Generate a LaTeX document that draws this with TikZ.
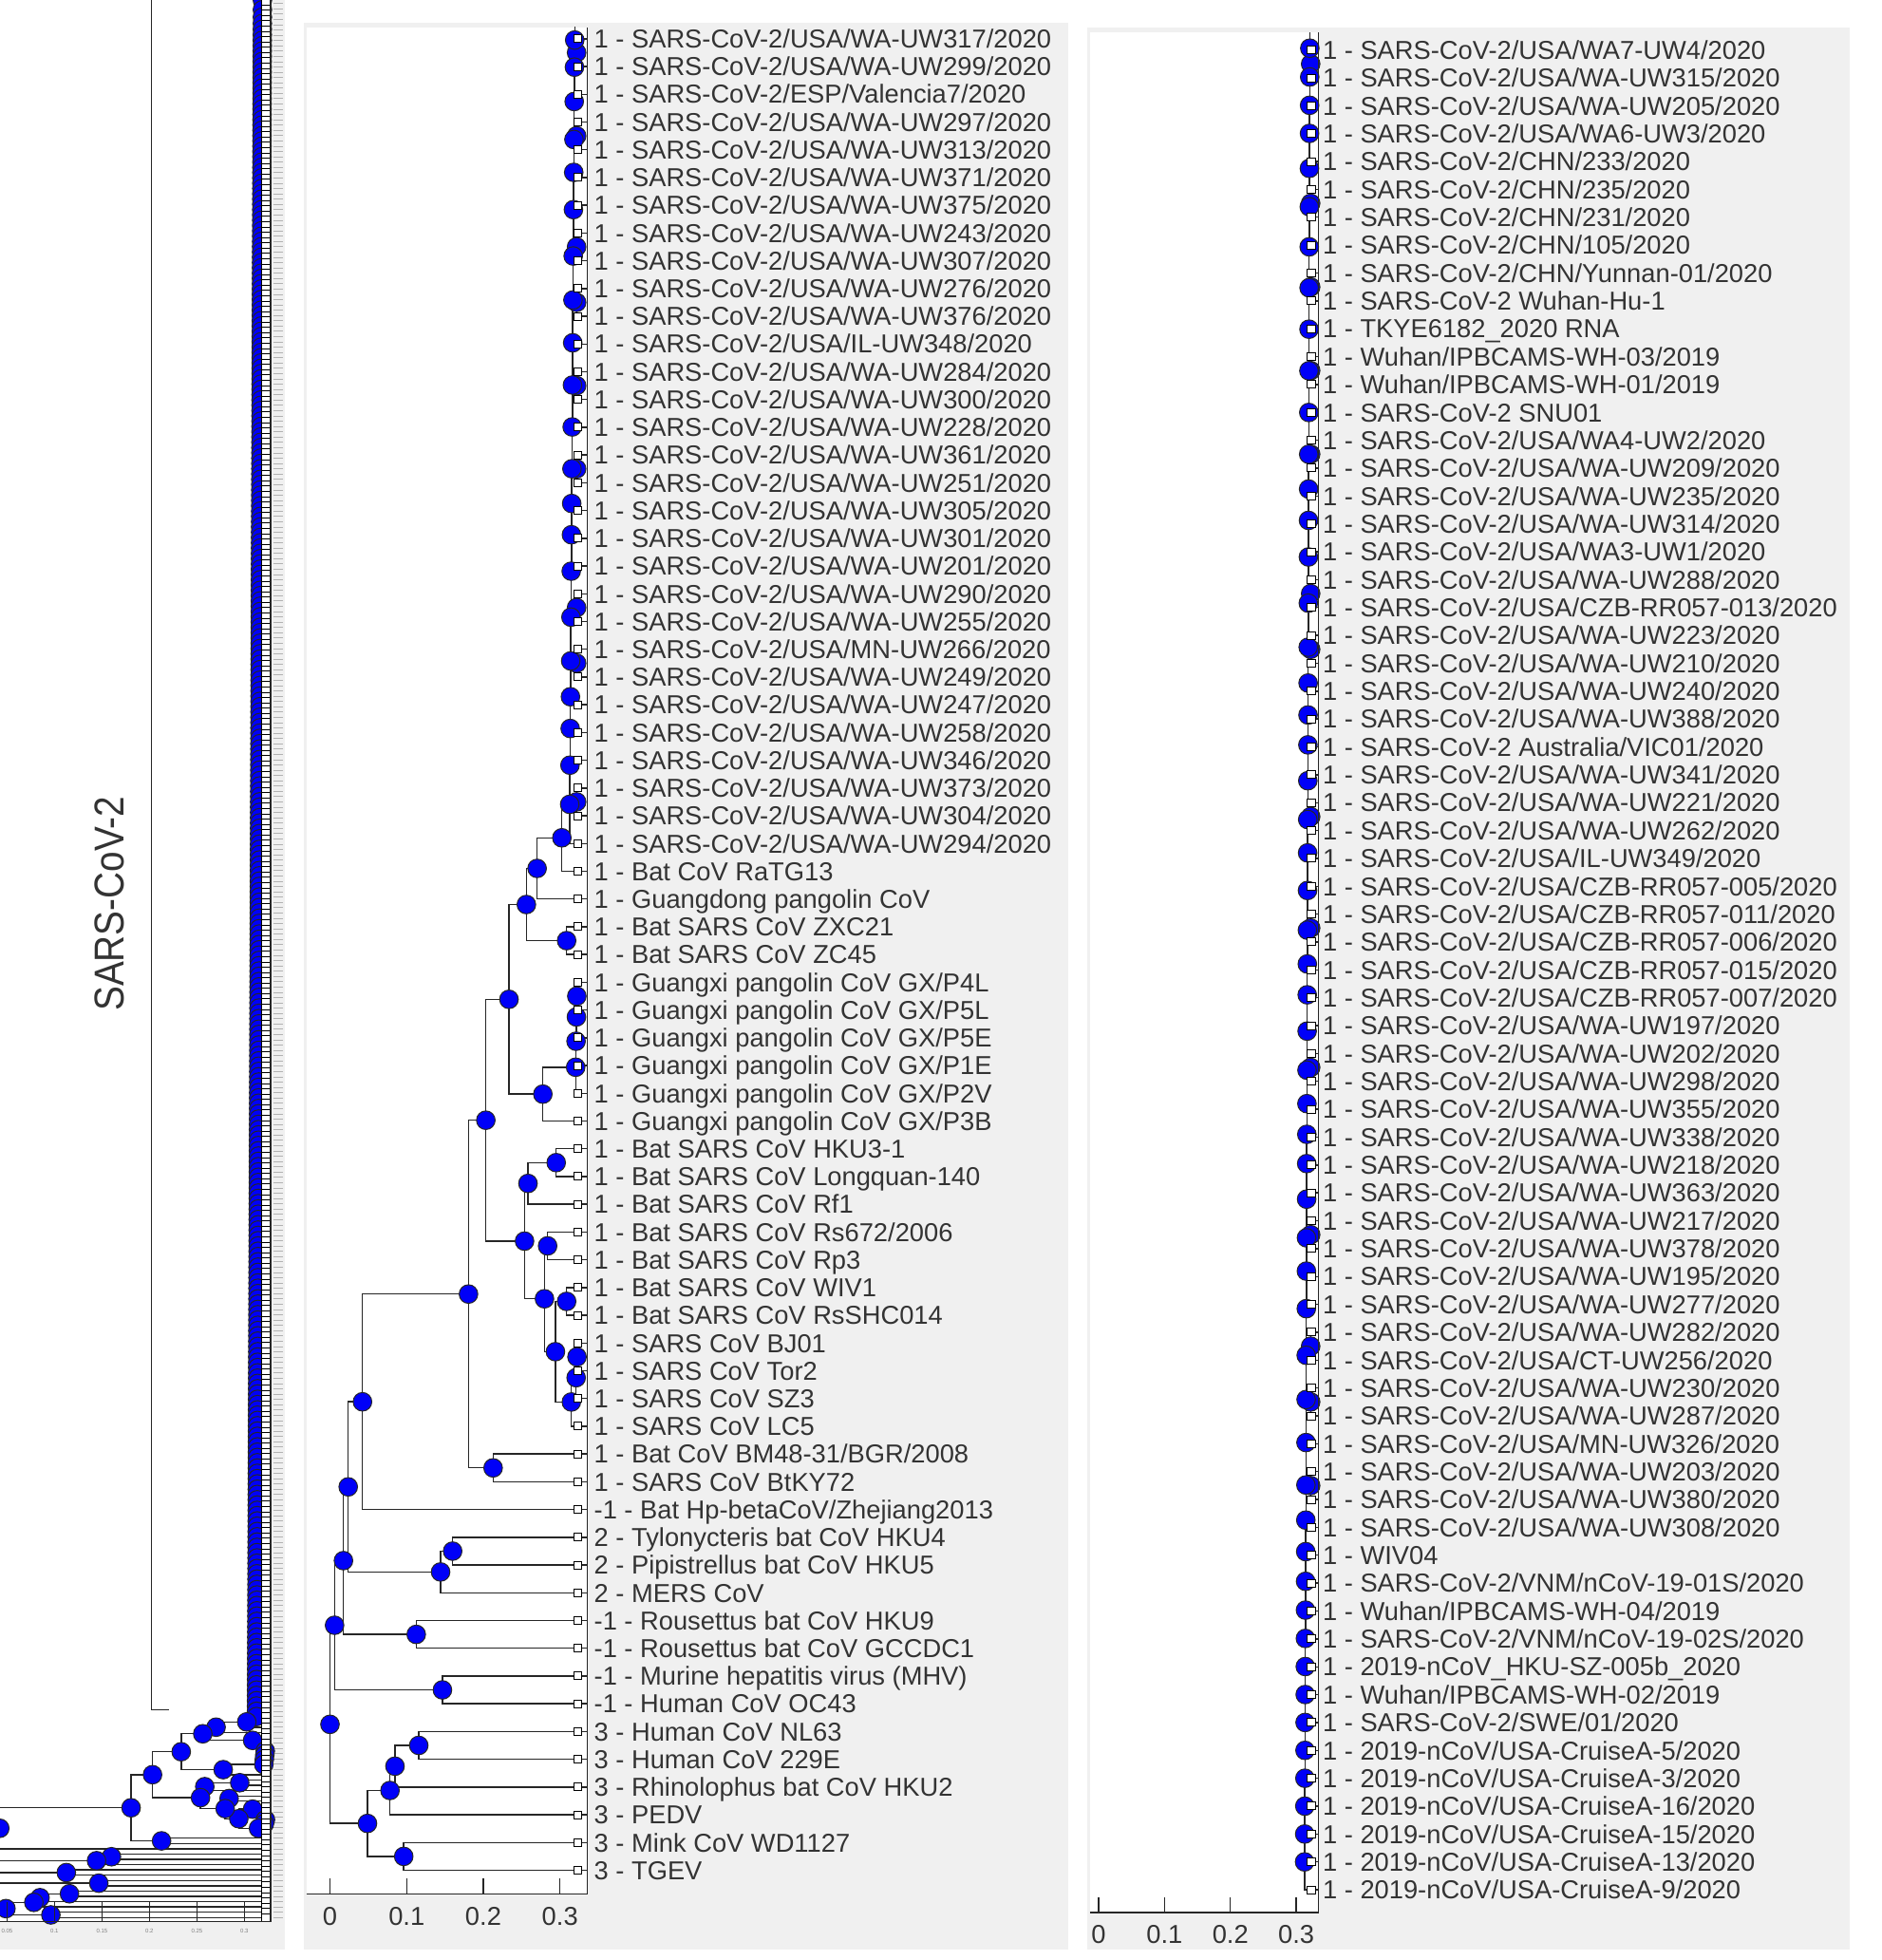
\documentclass[tikz,border=0pt]{standalone}
\usepackage{fontspec}
\setmainfont{Liberation Sans}
\usepackage{graphicx}
\usepackage{tikz}
\usetikzlibrary{calc}
\pgfdeclarelayer{bg}
\pgfsetlayers{bg,main}
\definecolor{panelgrey}{HTML}{F0F0F0}
\definecolor{nodeblue}{HTML}{0000F8}
\tikzset{
  bdot/.style={circle,draw=black!85,fill=nodeblue,line width=0.5pt,inner sep=0pt,minimum size=9.8pt},
  lbox/.style={rectangle,draw=black,fill=white,line width=0.5pt,inner sep=0pt,minimum width=4.4pt,minimum height=4pt},
  edgeline/.style={draw=black!85,line width=0.7pt},
  axisline/.style={draw=black!85,line width=0.6pt},
  lblmark/.style={draw=gray!60,line width=0.35pt},
  leaflab/.style={anchor=base west,inner sep=0pt,text=black!80,font=\fontsize{13.65}{14}\selectfont},
  ticklab/.style={anchor=base,inner sep=0pt,text=black!80,font=\fontsize{13.65}{14}\selectfont},
  tinylab/.style={anchor=base,inner sep=0pt,text=gray,font=\fontsize{3}{3}\selectfont},
}
% x position from branch length in the current panel
\newcommand\xv[1]{\xo+\xs*#1}
% branches are collected here and drawn under the dots at the end
\gdef\bgcmds{}
% inner node: name, x, first child, second child
\newcommand\tnode[4]{%
  \coordinate (#1m) at ($(#3.center)!0.5!(#4.center)$);
  \node[bdot] (#1) at ({#2},0 |- #1m) {};
  \xdef\bgcmds{\unexpanded\expandafter{\bgcmds}%
    \noexpand\draw[edgeline] (#1.center) |- (#3.center) (#1.center) |- (#4.center);}}
% everything outside the SARS-CoV-2 clade
\newcommand\backbone[2]{%
  % sarbecoviruses
  \tnode{#1rat}{\xv{0.3025}}{#2}{#131}
  \tnode{#1gd}{\xv{0.2702}}{#1rat}{#132}
  \tnode{#1zx}{\xv{0.3087}}{#133}{#134}
  \tnode{#1pa}{\xv{0.2562}}{#1gd}{#1zx}
  \tnode{#1gxa}{\xv{0.3220}}{#135}{#136}
  \tnode{#1gxb}{\xv{0.3215}}{#1gxa}{#137}
  \tnode{#1gxc}{\xv{0.3210}}{#1gxb}{#138}
  \tnode{#1gxd}{\xv{0.3205}}{#1gxc}{#139}
  \tnode{#1gx}{\xv{0.2777}}{#1gxd}{#140}
  \tnode{#1pb}{\xv{0.2335}}{#1pa}{#1gx}
  \tnode{#1hk}{\xv{0.2951}}{#141}{#142}
  \tnode{#1rf}{\xv{0.2583}}{#1hk}{#143}
  \tnode{#1rp}{\xv{0.2839}}{#144}{#145}
  \tnode{#1wv}{\xv{0.3087}}{#146}{#147}
  \tnode{#1bj}{\xv{0.3222}}{#148}{#149}
  \tnode{#1sz}{\xv{0.3211}}{#1bj}{#150}
  \tnode{#1lc}{\xv{0.3149}}{#1sz}{#151}
  \tnode{#1sa}{\xv{0.2941}}{#1wv}{#1lc}
  \tnode{#1sb}{\xv{0.2798}}{#1rp}{#1sa}
  \tnode{#1ba}{\xv{0.2538}}{#1rf}{#1sb}
  \tnode{#1pc}{\xv{0.2033}}{#1pb}{#1ba}
  \tnode{#1bg}{\xv{0.2128}}{#152}{#153}
  \tnode{#1sarbe}{\xv{0.1807}}{#1pc}{#1bg}
  % other betacoronaviruses
  \tnode{#1bea}{\xv{0.0424}}{#1sarbe}{#154}
  \tnode{#1hku}{\xv{0.1600}}{#155}{#156}
  \tnode{#1mers}{\xv{0.1443}}{#1hku}{#157}
  \tnode{#1beb}{\xv{0.0238}}{#1bea}{#1mers}
  \tnode{#1rou}{\xv{0.1125}}{#158}{#159}
  \tnode{#1bec}{\xv{0.0176}}{#1beb}{#1rou}
  \tnode{#1emb}{\xv{0.1467}}{#160}{#161}
  \tnode{#1bed}{\xv{0.0060}}{#1bec}{#1emb}
  % alphacoronaviruses
  \tnode{#1nl}{\xv{0.1158}}{#162}{#163}
  \tnode{#1hkb}{\xv{0.0848}}{#1nl}{#164}
  \tnode{#1ped}{\xv{0.0783}}{#1hkb}{#165}
  \tnode{#1tge}{\xv{0.0962}}{#166}{#167}
  \tnode{#1alpha}{\xv{0.0489}}{#1ped}{#1tge}
  \tnode{#1root}{\xv{0}}{#1bed}{#1alpha}}

\begin{document}
\begin{tikzpicture}[x=0.65814pt,y=-0.65814pt]
  \useasboundingbox (0,0) rectangle (1505,1568);

  %%% Left panel: whole tree
  \coordinate (lax) at (216.5,0);
  \foreach \i in {1,...,363}{
    \pgfmathtruncatemacro\k{\i-296}
    \ifnum\k>0 \edef\nm{L\k}\else\edef\nm{LU\i}\fi
    \coordinate (\nm) at (212.8,{1250.6+4.23*\k});
    \draw[edgeline] (\nm) -- (\nm -| lax);
    \draw[lblmark] (\nm -| lax) ++(2,0) -- ++(8,0);
  }
  % SARS-CoV-2 clade
  \coordinate (ls0) at (210,-60);
  \foreach \i [remember=\i as \ip (initially 0)] in {1,...,326}{
    \pgfmathtruncatemacro\k{\i-296}
    \ifnum\k>0 \edef\nm{L\k}\else\edef\nm{LU\i}\fi
    \tnode{ls\i}{210-0.0147*\i}{ls\ip}{\nm}
  }
  \def\xo{-32.4}\def\xs{759.7}
  \backbone{L}{ls326}
  % leaves on top
  \foreach \i in {1,...,363}{
    \pgfmathtruncatemacro\k{\i-296}
    \ifnum\k>0 \edef\nm{L\k}\else\edef\nm{LU\i}\fi
    \node[lbox] (\nm b) at (\nm) {};
  }
  % Axis
  \draw[axisline] (0,1537) -- (216.5,1537) -- (lax);
  \foreach \v [count=\t] in {0.05,0.1,0.15,0.2,0.25,0.3}{
    \draw[axisline] ({\xv{\v}},1537) -- ++(0,-15);
    \node[tinylab] (lt\t) at ({\xv{\v}},1546) {\v};
  }
  % Clade bracket
  \coordinate (brtop) at (121,0);
  \coordinate (brbot) at (121,1368);
  \coordinate (brend) at (135,1368);
  \draw[edgeline] (brtop) -- (brbot) -- (brend);
  \node[rotate=90,inner sep=0pt,text=black!80,font=\fontsize{22}{24}\selectfont] (cladelab) at (88,723) {\scalebox{0.88}[1]{SARS-CoV-2}};

  %%% Middle panel
  \coordinate (max) at (470,0);
  \foreach \lab [count=\k] in {
    1 - SARS-CoV-2/USA/WA-UW317/2020, 1 - SARS-CoV-2/USA/WA-UW299/2020,
    1 - SARS-CoV-2/ESP/Valencia7/2020, 1 - SARS-CoV-2/USA/WA-UW297/2020,
    1 - SARS-CoV-2/USA/WA-UW313/2020, 1 - SARS-CoV-2/USA/WA-UW371/2020,
    1 - SARS-CoV-2/USA/WA-UW375/2020, 1 - SARS-CoV-2/USA/WA-UW243/2020,
    1 - SARS-CoV-2/USA/WA-UW307/2020, 1 - SARS-CoV-2/USA/WA-UW276/2020,
    1 - SARS-CoV-2/USA/WA-UW376/2020, 1 - SARS-CoV-2/USA/IL-UW348/2020,
    1 - SARS-CoV-2/USA/WA-UW284/2020, 1 - SARS-CoV-2/USA/WA-UW300/2020,
    1 - SARS-CoV-2/USA/WA-UW228/2020, 1 - SARS-CoV-2/USA/WA-UW361/2020,
    1 - SARS-CoV-2/USA/WA-UW251/2020, 1 - SARS-CoV-2/USA/WA-UW305/2020,
    1 - SARS-CoV-2/USA/WA-UW301/2020, 1 - SARS-CoV-2/USA/WA-UW201/2020,
    1 - SARS-CoV-2/USA/WA-UW290/2020, 1 - SARS-CoV-2/USA/WA-UW255/2020,
    1 - SARS-CoV-2/USA/MN-UW266/2020, 1 - SARS-CoV-2/USA/WA-UW249/2020,
    1 - SARS-CoV-2/USA/WA-UW247/2020, 1 - SARS-CoV-2/USA/WA-UW258/2020,
    1 - SARS-CoV-2/USA/WA-UW346/2020, 1 - SARS-CoV-2/USA/WA-UW373/2020,
    1 - SARS-CoV-2/USA/WA-UW304/2020, 1 - SARS-CoV-2/USA/WA-UW294/2020,
    1 - Bat CoV RaTG13, 1 - Guangdong pangolin CoV,
    1 - Bat SARS CoV ZXC21, 1 - Bat SARS CoV ZC45,
    1 - Guangxi pangolin CoV GX/P4L, 1 - Guangxi pangolin CoV GX/P5L,
    1 - Guangxi pangolin CoV GX/P5E, 1 - Guangxi pangolin CoV GX/P1E,
    1 - Guangxi pangolin CoV GX/P2V, 1 - Guangxi pangolin CoV GX/P3B,
    1 - Bat SARS CoV HKU3-1, 1 - Bat SARS CoV Longquan-140,
    1 - Bat SARS CoV Rf1, 1 - Bat SARS CoV Rs672/2006,
    1 - Bat SARS CoV Rp3, 1 - Bat SARS CoV WIV1,
    1 - Bat SARS CoV RsSHC014, 1 - SARS CoV BJ01,
    1 - SARS CoV Tor2, 1 - SARS CoV SZ3,
    1 - SARS CoV LC5, 1 - Bat CoV BM48-31/BGR/2008,
    1 - SARS CoV BtKY72, -1 - Bat Hp-betaCoV/Zhejiang2013,
    2 - Tylonycteris bat CoV HKU4, 2 - Pipistrellus bat CoV HKU5,
    2 - MERS CoV, -1 - Rousettus bat CoV HKU9,
    -1 - Rousettus bat CoV GCCDC1, -1 - Murine hepatitis virus (MHV),
    -1 - Human CoV OC43, 3 - Human CoV NL63,
    3 - Human CoV 229E, 3 - Rhinolophus bat CoV HKU2,
    3 - PEDV, 3 - Mink CoV WD1127,
    3 - TGEV}{
    \coordinate (m\k) at (462.2,{31+22.2*(\k-1)});
    \draw[edgeline] (m\k) -- (m\k -| max);
    \node[leaflab] (mlab\k) at (475,{38.4+22.2*(\k-1)}) {\lab};
  }
  % SARS-CoV-2 clade
  \coordinate (ms0) at (460.5,22);
  \foreach \a/\b [count=\j, remember=\j as \jp (initially 0)] in {1/2,3/3,4/5,6/6,7/7,8/9,10/11,
      12/12,13/14,15/15,16/17,18/18,19/19,20/20,21/22,23/24,25/25,26/26,27/27,28/29,30/30}{
    \ifnum\a=\b\relax \edef\grp{m\a}\else \tnode{mc\j}{461.3}{m\a}{m\b}\edef\grp{mc\j}\fi
    \tnode{ms\j}{460-0.2*\j}{ms\jp}{\grp}
  }
  \def\xo{264}\def\xs{613.3}
  \backbone{m}{ms21}
  \foreach \k in {1,...,67}{\node[lbox] (m\k b) at (m\k) {};}
  % Axis
  \draw[axisline] (245,1515) -- (470,1515) -- (470,22);
  \foreach \v [count=\t] in {0,0.1,0.2,0.3}{
    \draw[axisline] ({\xv{\v}},1515) -- ++(0,-12);
    \node[ticklab] (mt\t) at ({\xv{\v}},1540.4) {\v};
  }

  %%% Right panel
  \coordinate (rax) at (1055,0);
  \foreach \lab [count=\k] in {
    1 - SARS-CoV-2/USA/WA7-UW4/2020, 1 - SARS-CoV-2/USA/WA-UW315/2020,
    1 - SARS-CoV-2/USA/WA-UW205/2020, 1 - SARS-CoV-2/USA/WA6-UW3/2020,
    1 - SARS-CoV-2/CHN/233/2020, 1 - SARS-CoV-2/CHN/235/2020,
    1 - SARS-CoV-2/CHN/231/2020, 1 - SARS-CoV-2/CHN/105/2020,
    1 - SARS-CoV-2/CHN/Yunnan-01/2020, 1 - SARS-CoV-2 Wuhan-Hu-1,
    1 - TKYE6182\_2020 RNA, 1 - Wuhan/IPBCAMS-WH-03/2019,
    1 - Wuhan/IPBCAMS-WH-01/2019, 1 - SARS-CoV-2 SNU01,
    1 - SARS-CoV-2/USA/WA4-UW2/2020, 1 - SARS-CoV-2/USA/WA-UW209/2020,
    1 - SARS-CoV-2/USA/WA-UW235/2020, 1 - SARS-CoV-2/USA/WA-UW314/2020,
    1 - SARS-CoV-2/USA/WA3-UW1/2020, 1 - SARS-CoV-2/USA/WA-UW288/2020,
    1 - SARS-CoV-2/USA/CZB-RR057-013/2020, 1 - SARS-CoV-2/USA/WA-UW223/2020,
    1 - SARS-CoV-2/USA/WA-UW210/2020, 1 - SARS-CoV-2/USA/WA-UW240/2020,
    1 - SARS-CoV-2/USA/WA-UW388/2020, 1 - SARS-CoV-2 Australia/VIC01/2020,
    1 - SARS-CoV-2/USA/WA-UW341/2020, 1 - SARS-CoV-2/USA/WA-UW221/2020,
    1 - SARS-CoV-2/USA/WA-UW262/2020, 1 - SARS-CoV-2/USA/IL-UW349/2020,
    1 - SARS-CoV-2/USA/CZB-RR057-005/2020, 1 - SARS-CoV-2/USA/CZB-RR057-011/2020,
    1 - SARS-CoV-2/USA/CZB-RR057-006/2020, 1 - SARS-CoV-2/USA/CZB-RR057-015/2020,
    1 - SARS-CoV-2/USA/CZB-RR057-007/2020, 1 - SARS-CoV-2/USA/WA-UW197/2020,
    1 - SARS-CoV-2/USA/WA-UW202/2020, 1 - SARS-CoV-2/USA/WA-UW298/2020,
    1 - SARS-CoV-2/USA/WA-UW355/2020, 1 - SARS-CoV-2/USA/WA-UW338/2020,
    1 - SARS-CoV-2/USA/WA-UW218/2020, 1 - SARS-CoV-2/USA/WA-UW363/2020,
    1 - SARS-CoV-2/USA/WA-UW217/2020, 1 - SARS-CoV-2/USA/WA-UW378/2020,
    1 - SARS-CoV-2/USA/WA-UW195/2020, 1 - SARS-CoV-2/USA/WA-UW277/2020,
    1 - SARS-CoV-2/USA/WA-UW282/2020, 1 - SARS-CoV-2/USA/CT-UW256/2020,
    1 - SARS-CoV-2/USA/WA-UW230/2020, 1 - SARS-CoV-2/USA/WA-UW287/2020,
    1 - SARS-CoV-2/USA/MN-UW326/2020, 1 - SARS-CoV-2/USA/WA-UW203/2020,
    1 - SARS-CoV-2/USA/WA-UW380/2020, 1 - SARS-CoV-2/USA/WA-UW308/2020,
    1 - WIV04, 1 - SARS-CoV-2/VNM/nCoV-19-01S/2020,
    1 - Wuhan/IPBCAMS-WH-04/2019, 1 - SARS-CoV-2/VNM/nCoV-19-02S/2020,
    1 - 2019-nCoV\_HKU-SZ-005b\_2020, 1 - Wuhan/IPBCAMS-WH-02/2019,
    1 - SARS-CoV-2/SWE/01/2020, 1 - 2019-nCoV/USA-CruiseA-5/2020,
    1 - 2019-nCoV/USA-CruiseA-3/2020, 1 - 2019-nCoV/USA-CruiseA-16/2020,
    1 - 2019-nCoV/USA-CruiseA-15/2020, 1 - 2019-nCoV/USA-CruiseA-13/2020,
    1 - 2019-nCoV/USA-CruiseA-9/2020}{
    \coordinate (r\k) at (1049,{40+22.3*(\k-1)});
    \draw[edgeline] (r\k) -- (r\k -| rax);
    \node[leaflab] (rlab\k) at (1058,{47.4+22.3*(\k-1)}) {\lab};
  }
  \coordinate (rs0) at (1048.5,26);
  \foreach \a/\b [count=\j, remember=\j as \jp (initially 0)] in {1/2,3/3,4/4,5/5,6/7,8/8,9/10,
      11/11,12/13,14/14,15/16,17/17,18/18,19/19,20/21,22/23,24/24,25/25,26/26,27/27,28/29,
      30/30,31/31,32/33,34/34,35/35,36/36,37/38,39/39,40/40,41/41,42/42,43/44,45/45,46/46,
      47/48,49/50,51/51,52/53,54/54,55/55,56/56,57/57,58/58,59/59,60/60,61/61,62/62,63/63,
      64/64,65/65,66/66,67/67}{
    \ifnum\a=\b\relax \edef\grp{r\a}\else \tnode{rc\j}{1048.6}{r\a}{r\b}\edef\grp{rc\j}\fi
    \tnode{rs\j}{1048-0.08*\j}{rs\jp}{\grp}
  }
  \foreach \k in {1,...,67}{\node[lbox] (r\k b) at (r\k) {};}
  % Axis
  \def\xo{879}\def\xs{526.7}
  \draw[axisline] (872,1530) -- (1055,1530) -- (1055,26);
  \foreach \v [count=\t] in {0,0.1,0.2,0.3}{
    \draw[axisline] ({\xv{\v}},1530) -- ++(0,-12);
    \node[ticklab] (rt\t) at ({\xv{\v}},1554.4) {\v};
  }

  % Panels and collected branches, below everything
  \begin{pgfonlayer}{bg}
    \fill[white] (0,0) rectangle (1505,1568);
    \fill[panelgrey] (0,0) rectangle (228,1560);
    \fill[white] (0,0) rectangle (216.5,1537);
    \fill[panelgrey] (243,18) rectangle (855,1560);
    \fill[white] (245,22) rectangle (470,1515);
    \fill[panelgrey] (870,22) rectangle (1480,1560);
    \fill[white] (872,26) rectangle (1055,1530);
    \bgcmds
  \end{pgfonlayer}
\end{tikzpicture}
\end{document}
